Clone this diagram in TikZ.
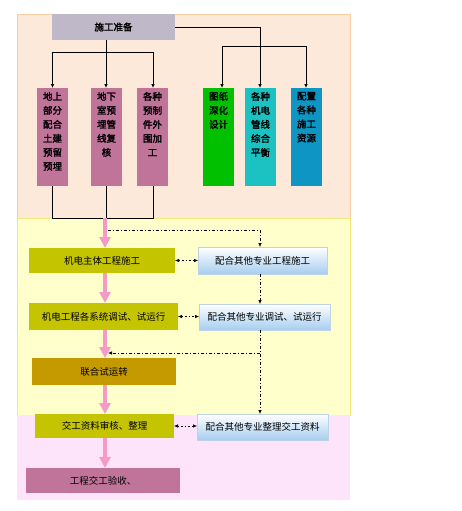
\documentclass[tikz,border=0pt]{standalone}
\usepackage{fontspec}
\newfontfamily\cjk{Noto Sans CJK SC}
\newfontfamily\cjkb[FakeBold=2]{Noto Sans CJK SC}
\usetikzlibrary{arrows.meta}
\definecolor{peach}{RGB}{253,233,217}
\definecolor{peachline}{RGB}{247,205,165}
\definecolor{ylw}{RGB}{255,255,204}
\definecolor{ylwline}{RGB}{240,232,120}
\definecolor{pnk}{RGB}{253,228,251}
\definecolor{topgray}{RGB}{191,184,200}
\definecolor{mauve}{RGB}{193,116,154}
\definecolor{grn}{RGB}{0,192,0}
\definecolor{teal2}{RGB}{28,194,194}
\definecolor{blu}{RGB}{14,149,196}
\definecolor{olive2}{RGB}{196,196,0}
\definecolor{gold2}{RGB}{196,154,0}
\definecolor{pinkarrow}{RGB}{245,154,200}
\definecolor{lblue}{RGB}{166,206,240}
\definecolor{lblueline}{RGB}{190,210,230}
\begin{document}
\begin{tikzpicture}[x=1pt,y=-1pt,
  vbox/.style={anchor=north west,inner sep=0pt,outer sep=0pt,font=\cjkb\fontsize{9.5}{14}\selectfont},
  hbox/.style={inner sep=0pt,outer sep=0pt,font=\cjk\fontsize{9.5}{11}\selectfont},
  bluebox/.style={hbox,draw=lblueline,top color=white,bottom color=lblue},
  conn/.style={draw=black,line width=0.7pt},
  arr/.style={conn,-{Latex[length=4pt,width=3.5pt]}},
  parr/.style={draw=pinkarrow,line width=4pt,-{Triangle[length=11pt,width=11pt]}},
  dd/.style={draw=black,line width=0.6pt,dash pattern=on 3pt off 2pt on 1pt off 2pt,-{Latex[length=4pt,width=3.5pt]}},
  dbl/.style={draw=black,line width=0.6pt,dash pattern=on 1.5pt off 2pt,{Latex[length=4pt,width=3.5pt]}-{Latex[length=4pt,width=3.5pt]}}
]
\useasboundingbox (0,0) rectangle (462,511);
\fill[white] (0,0) rectangle (462,511);
% background regions
\filldraw[fill=peach,draw=peachline,line width=0.6pt] (17,14) rectangle (350,218);
\filldraw[fill=ylw,draw=ylwline,line width=0.6pt] (17,218) rectangle (350,415);
\fill[pnk] (17,415) rectangle (350,500);

% top box
\node[hbox,fill=topgray,minimum width=123pt,minimum height=26pt,font=\cjkb\fontsize{9.5}{11}\selectfont] (T) at (113.5,27) {施工准备};

% vertical boxes
\node[vbox,fill=mauve] (l1) at (37,88) {\parbox[t][98pt][t]{31pt}{\vspace*{4pt}\centering 地上\\部分\\配合\\土建\\预留\\预埋}};
\node[vbox,fill=mauve] (l2) at (91,88) {\parbox[t][98pt][t]{31pt}{\vspace*{4pt}\centering 地下\\室预\\埋管\\线复\\核}};
\node[vbox,fill=mauve] (l3) at (137,88) {\parbox[t][98pt][t]{31pt}{\vspace*{4pt}\centering 各种\\预制\\件外\\围加\\工}};
\node[vbox,fill=grn] (r1) at (203,88) {\parbox[t][98pt][t]{31pt}{\vspace*{4pt}\centering 图纸\\深化\\设计}};
\node[vbox,fill=teal2] (r2) at (245,88) {\parbox[t][98pt][t]{31pt}{\vspace*{4pt}\centering 各种\\机电\\管线\\综合\\平衡}};
\node[vbox,fill=blu] (r3) at (291,88) {\parbox[t][98pt][t]{31pt}{\vspace*{4pt}\centering 配置\\各种\\施工\\资源}};

% lower boxes
\node[hbox,fill=olive2,minimum width=146pt,minimum height=25pt] (A1) at (102,260.5) {机电主体工程施工};
\node[bluebox,minimum width=129pt,minimum height=27pt] (B1) at (262.5,260.5) {配合其他专业工程施工};
\node[hbox,fill=olive2,minimum width=149pt,minimum height=27pt] (A2) at (103.5,316.5) {机电工程各系统调试、试运行};
\node[bluebox,minimum width=131pt,minimum height=26pt] (B2) at (264.5,317) {配合其他专业调试、试运行};
\node[hbox,fill=gold2,minimum width=144pt,minimum height=27pt] (A3) at (104,371.5) {联合试运转};
\node[hbox,fill=olive2,minimum width=139pt,minimum height=24pt] (A4) at (104.5,426) {交工资料审核、整理};
\node[bluebox,minimum width=131pt,minimum height=26pt] (B4) at (262.5,427) {配合其他专业整理交工资料};
\node[hbox,fill=mauve,minimum width=154pt,minimum height=25pt] (A5) at (103,480.5) {工程交工验收、};

% top connectors
\coordinate (t1) at (106,52);
\coordinate (h1l) at (52.5,52);
\coordinate (h1r) at (153,52);
\draw[conn] (T.south -| t1) -- (t1);
\draw[conn] (h1l) -- (h1r);
\draw[arr] (h1l) -- (h1l |- l1.north);
\draw[arr] (t1) -- (t1 |- l2.north);
\draw[arr] (h1r) -- (h1r |- l3.north);
\coordinate (rx) at (260,27);
\coordinate (h2l) at (222,46);
\coordinate (h2r) at (306,46);
\draw[arr] (T.east) -- (rx) -- (rx |- r2.north);
\draw[conn] (h2l) -- (h2r);
\draw[arr] (h2l) -- (h2l |- r1.north);
\draw[arr] (h2r) -- (h2r |- r3.north);

% bottom join of left boxes
\coordinate (bj) at (106,218);
\draw[conn] (h1l |- l1.south) -- (h1l |- bj) -- (h1r |- bj) -- (h1r |- l3.south);
\draw[conn] (t1 |- l2.south) -- (bj);

% pink main flow
\coordinate (P) at (105,218);
\draw[parr] (P) -- (P |- A1.north);
\draw[parr] (P |- A1.south) -- (P |- A2.north);
\draw[parr] (P |- A2.south) -- (P |- A3.north);
\draw[parr] (P |- A3.south) -- (P |- A4.north);
\draw[parr] (P |- A4.south) -- (P |- A5.north);

% dash-dot side flow
\coordinate (d1) at (108,230);
\coordinate (Dx) at (260,230);
\coordinate (d2) at (260,353);
\coordinate (d3) at (108,353);
\draw[dd] (d1) -- (Dx) -- (Dx |- B1.north);
\draw[dd] (Dx |- B1.south) -- (Dx |- B2.north);
\draw[dd] (Dx |- B2.south) -- (Dx |- B4.north);
\draw[dd] (d2) -- (d3);

% double arrows
\draw[dbl] (A1.east) -- (B1.west |- A1.east);
\draw[dbl] (A2.east) -- (B2.west |- A2.east);
\draw[dbl] (A4.east) -- (B4.west |- A4.east);
\end{tikzpicture}
\end{document}
